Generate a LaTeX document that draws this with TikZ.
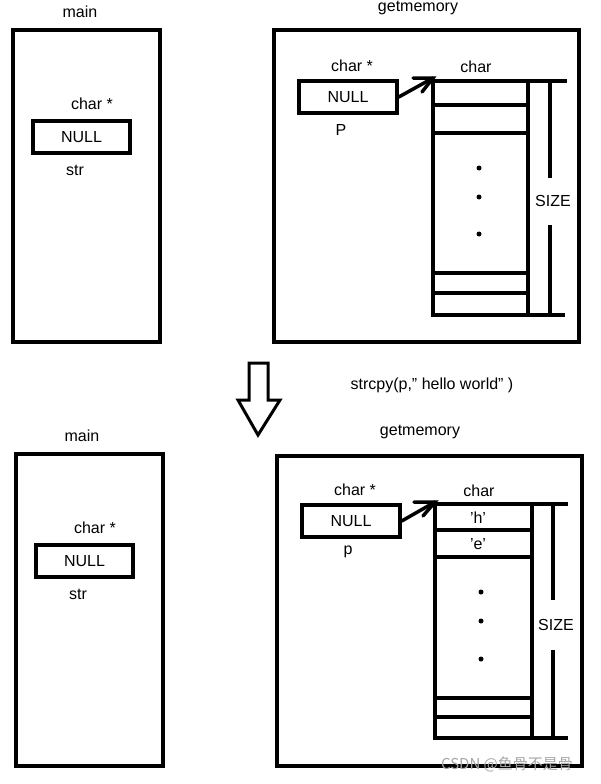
\documentclass[tikz,border=0pt]{standalone}
\usepackage{fontspec}
\setmainfont{Liberation Sans}
\newfontfamily\cjk{Noto Sans CJK SC}
\begin{document}
\begin{tikzpicture}[x=1pt,y=-1pt,
  box/.style={draw,line width=3.5pt},
  ln/.style={line width=3.5pt},
  lbl/.style={font=\fontsize{16}{18}\selectfont,inner sep=0pt},
  dot/.style={fill,circle,inner sep=0pt,minimum size=5pt}]
\useasboundingbox (0,0) rectangle (600,784);
% ---------- top ----------
\node[lbl] (m1) at (80,12) {main};
\draw[box] (13,30) rectangle (160,342);
\node[lbl] (c1) at (92,104) {char *};
\node[box,minimum width=97pt,minimum height=32pt,lbl] (n1) at (81.5,137) {NULL};
\node[lbl] (s1) at (75,170) {str};
\node[lbl] (g1) at (418,8) {getmemory};
\draw[box] (274,30) rectangle (579,342);
\node[lbl] (pc1) at (352,66) {char *};
\node[box,minimum width=98pt,minimum height=32pt,lbl] (pn1) at (348,97) {NULL};
\node[lbl] (p1) at (341,130) {P};
\node[lbl] (ch1) at (476,67) {char};
\coordinate (a1) at (433,78);
\draw[ln] (433,81) -- (567,81);
\draw[ln] (433,81) -- (433,315) -- (565,315);
\draw[ln] (528,81) -- (528,315);
\foreach \y in {105,133,273,293} \draw[ln] (433,\y) -- (528,\y);
\draw[ln] (550,81) -- (550,178) (550,225) -- (550,315);
\node[lbl] (sz1) at (553,201) {SIZE};
\foreach \y in {168,197,234} \node[dot] at (479,\y) {};
\draw[ln,line cap=round] (pn1.east) -- (a1);
\draw[ln,line cap=round] (413,78) -- (a1) -- (422,92);
% ---------- middle ----------
\draw[line width=3pt,line join=miter] (249,363) -- (268,363) -- (268,400) -- (280,400) -- (258,435) -- (238,400) -- (249,400) -- cycle;
\node[lbl] (cp) at (432,385) {strcpy(p,” hello world” )};
% ---------- bottom ----------
\node[lbl] (m2) at (82,436) {main};
\draw[box] (16,454) rectangle (163,766);
\node[lbl] (c2) at (95,528) {char *};
\node[box,minimum width=97pt,minimum height=32pt,lbl] (n2) at (84.5,561) {NULL};
\node[lbl] (s2) at (78,594) {str};
\node[lbl] (g2) at (420,432) {getmemory};
\draw[box] (277,456) rectangle (582,766);
\node[lbl] (pc2) at (355,490) {char *};
\node[box,minimum width=98pt,minimum height=32pt,lbl] (pn2) at (351,521) {NULL};
\node[lbl] (p2) at (348,552) {p};
\node[lbl] (ch2) at (479,491) {char};
\coordinate (a2) at (435,502);
\draw[ln] (435,504) -- (568,504);
\draw[ln] (435,504) -- (435,738) -- (568,738);
\draw[ln] (532,504) -- (532,738);
\foreach \y in {530,557,698,717} \draw[ln] (435,\y) -- (532,\y);
\draw[ln] (553,504) -- (553,600) (553,650) -- (553,738);
\node[lbl] (sz2) at (556,625) {SIZE};
\node[lbl] (h) at (478,518) {'h'};
\node[lbl] (e) at (478,544) {'e'};
\foreach \y in {592,621,659} \node[dot] at (481,\y) {};
\draw[ln,line cap=round] (pn2.east) -- (a2);
\draw[ln,line cap=round] (414,502) -- (a2) -- (423,516);
\node[lbl,text=black!35,font=\cjk\fontsize{15}{17}\selectfont] (wm) at (507,764) {CSDN @鱼骨不是骨};
\end{tikzpicture}
\end{document}
